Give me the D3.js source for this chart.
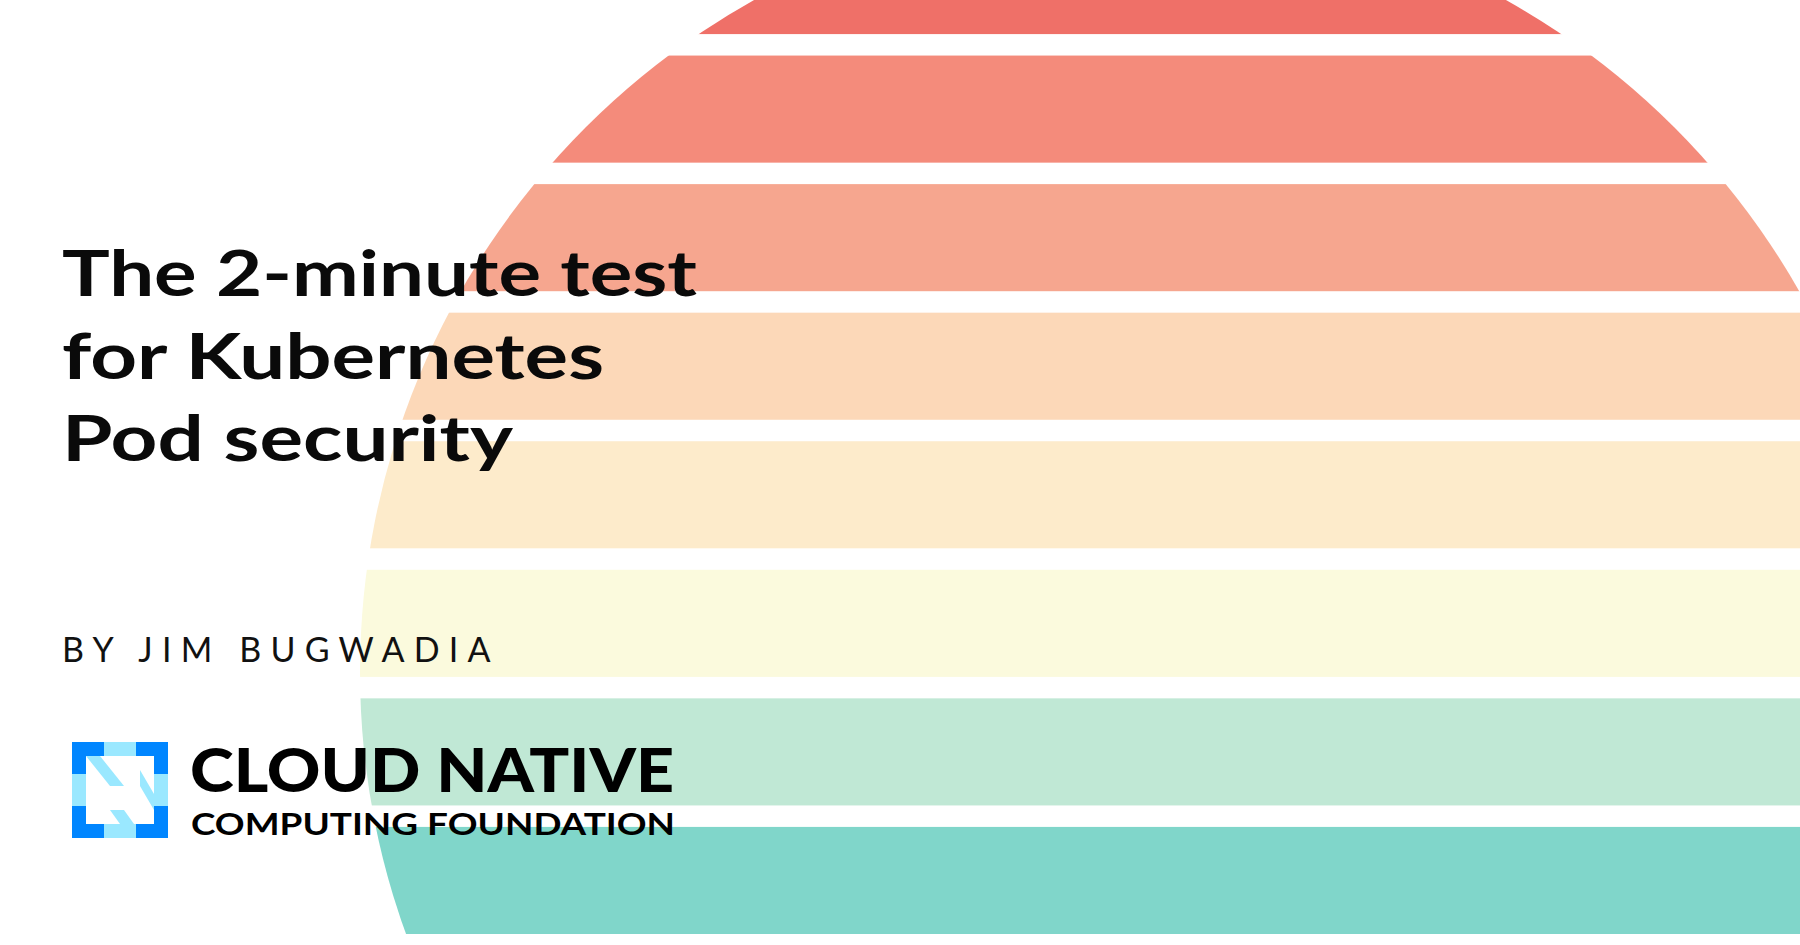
<!DOCTYPE html>
<html><head><meta charset="utf-8">
<script src="https://cdn.jsdelivr.net/npm/d3@7"></script>
<style>body{margin:0;background:#fff}svg{display:block}</style>
</head><body>
<script>
const bandColors = ['#ef7068','#f48b7b','#f6a68f','#fcd8b8','#fdebcb','#fbfadd','#c0e8d5','#80d6ca']
const bandIndex = [0,1,2,3,4,5,6,7]
const titleLines = ['The 2-minute test','for Kubernetes','Pod security']
const titleWidths = [635,542,451]
const byline = 'BY JIM BUGWADIA'

const width = 1800, height = 945

const y = d3.scaleBand()
  .domain(bandIndex)
  .range([-73, 934])
  .paddingInner(0.167)
  .paddingOuter(0)

const svg = d3.select('body').append('svg')
  .attr('width', width).attr('height', height)

svg.append('clipPath').attr('id','sun')
  .append('circle').attr('cx',1130).attr('cy',672).attr('r',770)

svg.append('g').attr('clip-path','url(#sun)')
  .selectAll('rect')
  .data(bandIndex)
  .enter()
  .append('rect')
  .attr('x',0)
  .attr('y',d=>y(d))
  .attr('width',width)
  .attr('height',y.bandwidth())
  .attr('fill',d=>bandColors[d])

svg.selectAll('.title')
  .data(titleLines)
  .enter()
  .append('text')
  .attr('class','title')
  .attr('x',62)
  .attr('y',(d,i)=>296+i*82.5)
  .attr('font-family','Lato, sans-serif')
  .attr('font-weight',700)
  .attr('font-size',64)
  .attr('textLength',(d,i)=>titleWidths[i])
  .attr('lengthAdjust','spacingAndGlyphs')
  .attr('fill','#0a0a0a')
  .text(d=>d)

svg.append('text')
  .attr('x',62).attr('y',662)
  .attr('font-family','Lato, sans-serif')
  .attr('font-size',34)
  .attr('letter-spacing',7.5)
  .attr('textLength',436)
  .attr('fill','#111')
  .text(byline)

// logo
const logo = svg.append('g').attr('transform','translate(72,742)')
const s = 96, t = 14, third = s/3
logo.append('rect').attr('width',s).attr('height',s).attr('fill','#0086ff')
logo.append('rect').attr('x',third).attr('width',third).attr('height',s).attr('fill','#9ae8ff')
logo.append('rect').attr('y',third).attr('width',s).attr('height',third).attr('fill','#9ae8ff')
logo.append('rect').attr('x',t).attr('y',t).attr('width',s-2*t).attr('height',s-2*t).attr('fill','#fff')
const strips = [[[t,t],[t+14,t],[t+38,t+30],[t+24,t+30]],
  [[t,t+30],[t+14,t+54],[t+14,t+68-14],[t,t+30]],
  [[t+24,t+54],[t+38,t+54],[t+48,t+68],[t+34,t+68]],
  [[t+54,t+14],[t+68,t+38],[t+68,t+54],[t+54,t+30]]]
logo.selectAll('polygon').data(strips).enter().append('polygon')
  .attr('points',d=>d.join(' ')).attr('fill','#9ae8ff')

svg.append('text').attr('x',190).attr('y',792)
  .attr('font-family','Lato, sans-serif').attr('font-weight',900)
  .attr('font-size',60).attr('textLength',484).attr('lengthAdjust','spacingAndGlyphs')
  .attr('fill','#000').text('CLOUD NATIVE')
svg.append('text').attr('x',191).attr('y',835)
  .attr('font-family','Lato, sans-serif').attr('font-weight',700)
  .attr('font-size',31).attr('textLength',484).attr('lengthAdjust','spacingAndGlyphs')
  .attr('fill','#000').text('COMPUTING FOUNDATION')
</script>
</body></html>
